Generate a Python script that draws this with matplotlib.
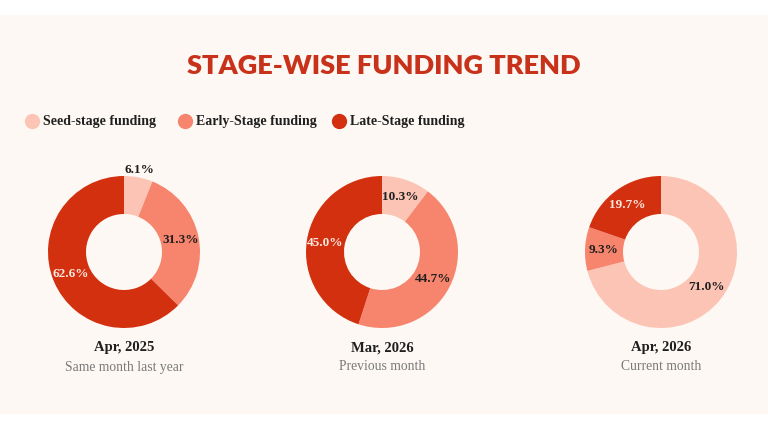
import matplotlib

matplotlib.use("Agg")
import matplotlib.pyplot as plt
import numpy as np
from matplotlib.patches import Rectangle

W, H = 768, 432

# data
stages = ["Seed-stage funding", "Early-Stage funding", "Late-Stage funding"]
periods = ["Apr, 2025", "Mar, 2026", "Apr, 2026"]
period_notes = ["Same month last year", "Previous month", "Current month"]
seed = [6.1, 10.3, 71.0]
early = [31.3, 44.7, 9.3]
late = [62.6, 45.0, 19.7]

COL = {
    "bg": "#fdf8f3",
    "title": "#c8321b",
    "seed": "#fcc4b4",
    "early": "#f7846c",
    "late": "#d2300f",
    "text": "#1f1f1f",
    "note": "#7a7a7a",
    "light": "#fde9e0",
}
stage_colors = [COL["seed"], COL["early"], COL["late"]]

fig = plt.figure(figsize=(W / 100, H / 100), dpi=100)
fig.patch.set_facecolor("white")

# full-figure overlay in pixel coords (y down)
base = fig.add_axes([0, 0, 1, 1])
base.set_xlim(0, W)
base.set_ylim(H, 0)
base.axis("off")
base.add_patch(Rectangle((0, 15), W, 399, facecolor=COL["bg"], edgecolor="none"))

base.text(384, 66, "STAGE-WISE FUNDING TREND", ha="center", va="center",
          fontsize=19.5, fontweight="heavy", family="Lato", color=COL["title"])

# legend
leg_x = [32, 185, 339]
for x, name, c in zip(leg_x, stages, stage_colors):
    base.plot(x, 121, "o", ms=11, color=c, mec="none")
    base.text(x + 11, 121, name, ha="left", va="center", fontsize=10,
              fontweight="bold", family="Liberation Serif", color=COL["text"])

centers = [124, 382, 661]
cy, R = 252, 76

for i, cx in enumerate(centers):
    ax = fig.add_axes([(cx - R) / W, 1 - (cy + R) / H, 2 * R / W, 2 * R / H])
    vals = [seed[i], early[i], late[i]]
    wedges, _ = ax.pie(vals, colors=stage_colors, startangle=90, counterclock=False,
                       radius=1, wedgeprops=dict(width=0.5, edgecolor="none"))
    ax.set_xlim(-1, 1)
    ax.set_ylim(-1, 1)
    ax.set_aspect("equal")
    ax.axis("off")
    total = sum(vals)
    for k, (w, v) in enumerate(zip(wedges, vals)):
        mid = np.deg2rad((w.theta1 + w.theta2) / 2)
        d = 1.1 if v / total < 0.08 else 0.76
        col = COL["light"] if k == 2 else COL["text"]
        ax.text(d * np.cos(mid), d * np.sin(mid), f"{v:.1f}%", ha="center", va="center",
                fontsize=9.5, fontweight="bold", family="Liberation Serif", color=col,
                clip_on=False)

    base.text(cx, 348, periods[i], ha="center", va="center", fontsize=10.5,
              fontweight="bold", family="Liberation Serif", color=COL["text"])
    base.text(cx, 367, period_notes[i], ha="center", va="center", fontsize=9.8,
              family="Liberation Serif", color=COL["note"])

fig.savefig("out.png", dpi=100, facecolor=fig.get_facecolor())
